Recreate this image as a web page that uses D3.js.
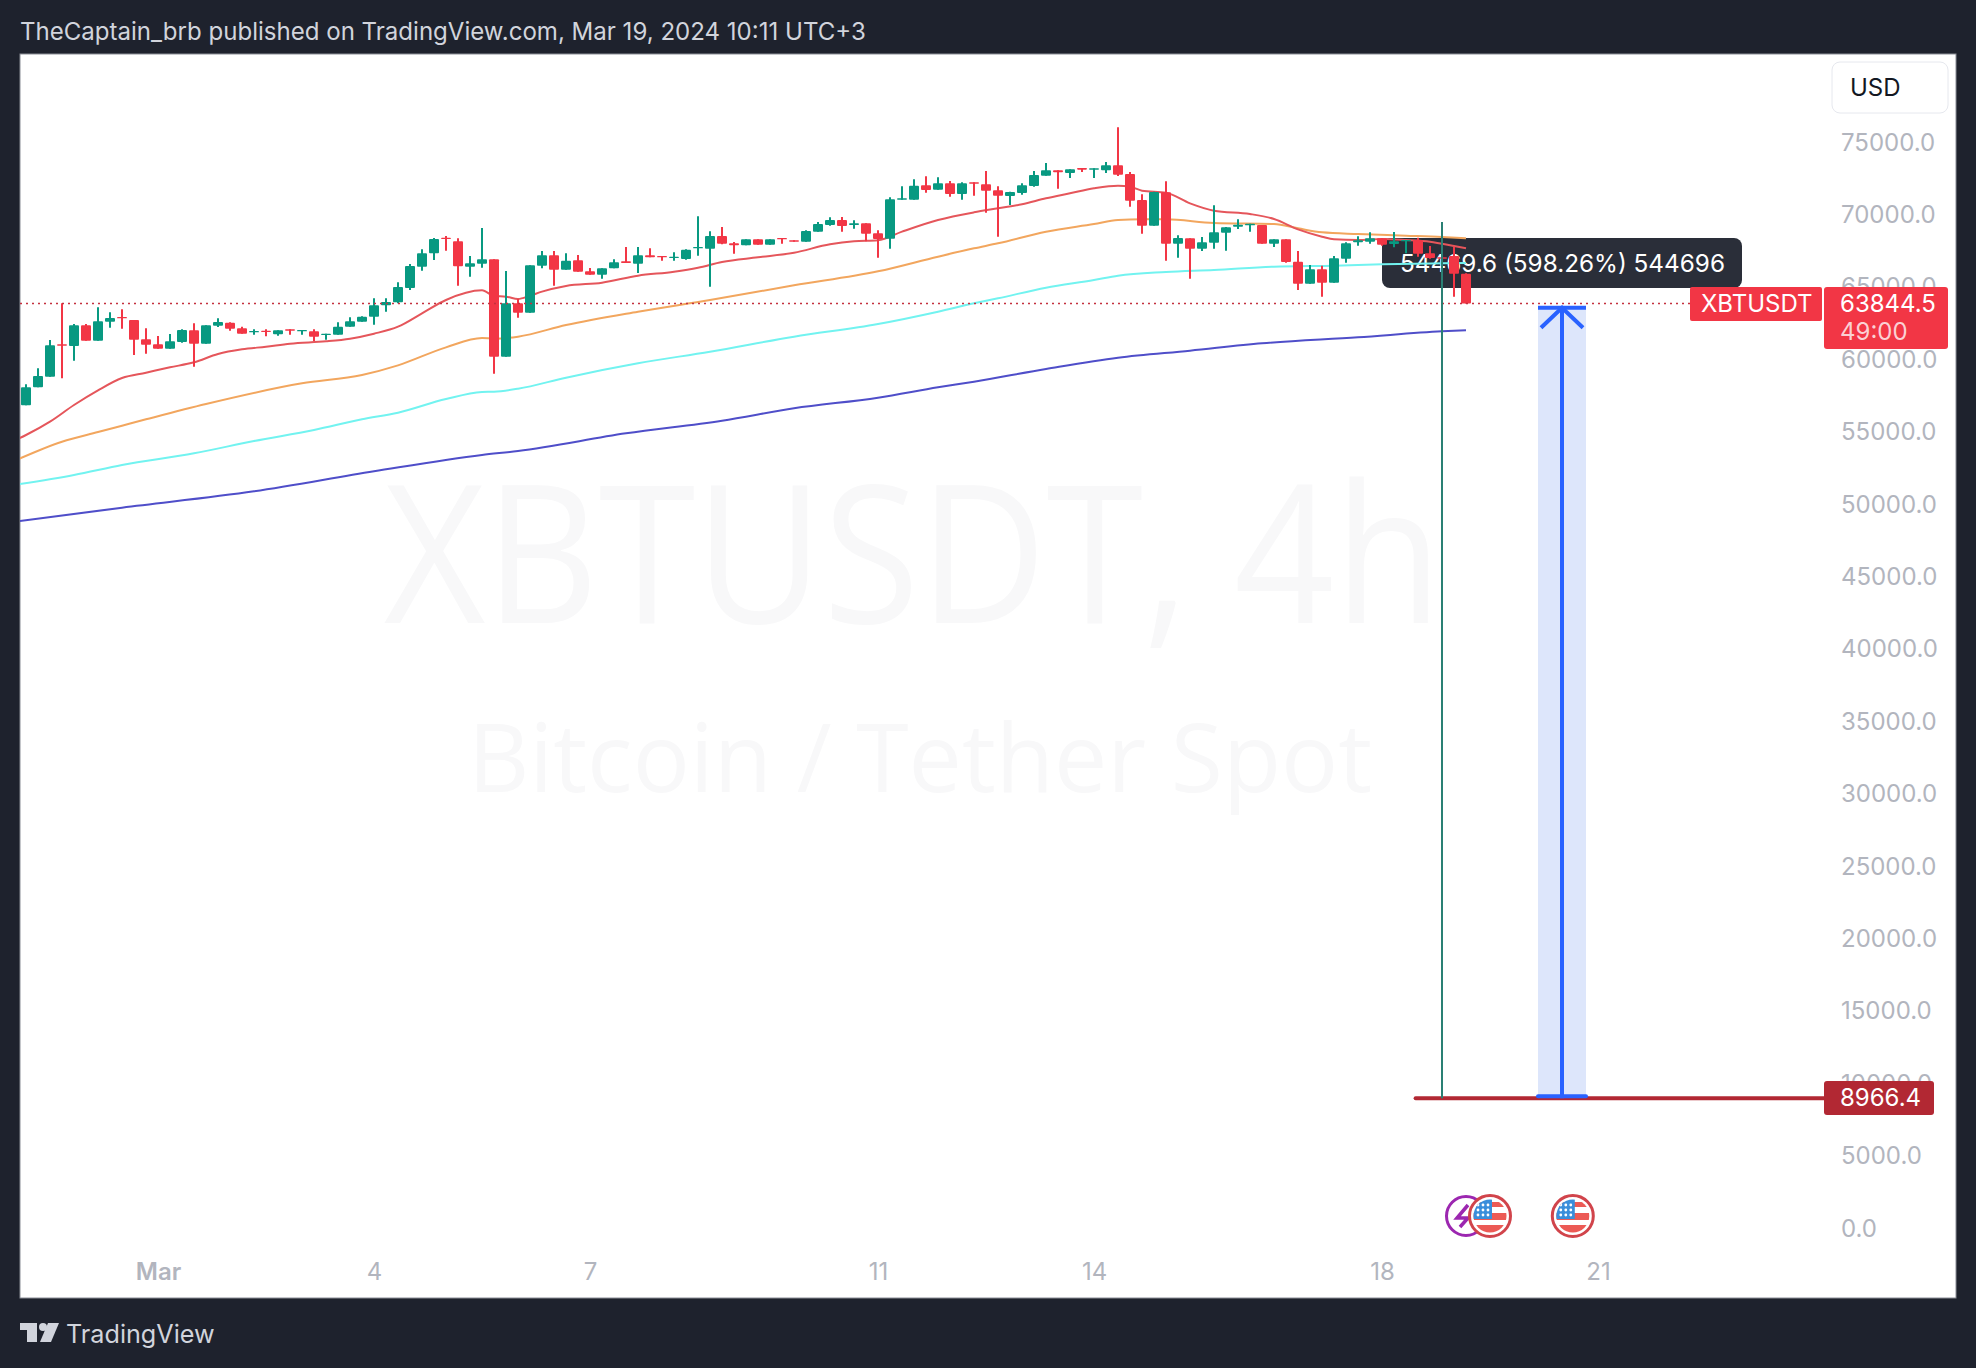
<!DOCTYPE html>
<html>
<head>
<meta charset="utf-8">
<script src="https://cdn.jsdelivr.net/npm/d3@7/dist/d3.min.js"></script>
<style>
  body { margin: 0; background: #1e222d; }
  text { font-family: Inter, sans-serif; }
</style>
</head>
<body>
<div id="chart"></div>
<script>
// candles, 4h, one per index
var opens = [56814,58057,58793,61026,60911,62339,61280,62592,62914,62707,61372,61026,60727,61187,61993,61072,62316,62523,62131,61855,61970,61717,62062,61924,61924,61671,61694,62246,62592,62937,63720,63927,64917,66390,67311,68393,68140,66390,66597,66896,60175,63858,63213,66459,67173,66183,66827,66068,65838,66275,66758,66597,67173,67127,66989,66919,67656,67633,68508,68001,67863,68278,67909,68370,68209,68117,68807,69268,69613,69268,69383,68692,68324,71017,71017,72007,71708,72145,71408,72214,72076,71662,71270,71477,71961,72674,73043,72859,73204,73089,73043,73388,72790,70994,69221,71523,67978,68347,67633,68047,68738,69152,69245,69268,67978,68278,66735,65216,66206,65285,66942,68070,68117,68347,67955,68140,68232,67311,67035,67127,65906];
var highs = [58264,59369,61326,63858,62431,62431,63582,63236,63443,62707,62131,61602,61740,62062,62477,62339,62822,62546,62246,62062,62062,61993,62062,62016,62062,61763,62546,62891,62960,64203,64203,65308,66574,67587,68370,68508,68347,67127,69060,66896,66090,64157,66482,67472,67472,67311,67196,66298,66275,66896,67748,67748,67656,67127,67380,67587,69866,68830,69129,68093,68278,68278,68278,68370,68209,68899,69475,69797,69820,69590,69383,68899,71178,71938,72421,72628,72559,72306,72214,72214,72997,71938,71570,72145,72997,73549,73043,73112,73204,73181,73618,76012,72928,71385,71570,72283,68554,68347,68439,70626,69129,69659,69360,69268,68278,68278,67472,66505,66459,67127,68070,68485,68761,68347,68784,68232,68393,67817,67541,67771,65929];
var lows = [56814,58057,58793,58678,59898,61280,61280,62177,62108,60290,60382,60727,60727,61141,59484,61072,62223,61970,61763,61694,61579,61625,61694,61694,61257,61349,61694,62246,62592,62385,63282,63858,64779,66114,66850,67495,65078,65699,66321,59000,60175,62868,63213,66275,65078,66183,66045,65838,65561,66275,66643,65953,67035,66804,66804,66873,67150,65009,67932,67288,67863,67909,67909,67978,68117,68117,68807,69222,68807,69015,68140,67012,67633,71017,71017,71500,71708,71224,71017,71293,70119,68462,70649,71362,71915,72674,71777,72513,72928,72513,72859,72651,70534,68669,69221,66804,67012,65561,67472,67633,67495,68991,68807,67978,67748,66666,64779,65216,64318,65285,66666,67840,67978,67840,67725,67311,67081,66942,66620,64318,63844.5];
var closes = [58057,58839,60957,60934,62339,61280,62615,62845,62822,61349,61003,60727,61234,62016,61072,62339,62569,62108,61763,61947,61878,61993,61970,62016,61556,61763,62246,62615,62937,63720,63950,64986,66436,67311,68301,68301,66413,66620,66896,60175,63858,63213,66482,67173,66183,66804,66045,65838,66275,66689,66643,67173,67035,67035,67081,67564,67748,68508,67978,67863,68278,67909,68278,68278,68117,68853,69337,69613,69199,69383,68669,68301,71040,71109,71984,71685,72145,71408,72145,72122,71639,71293,71547,72007,72720,73043,72905,73112,73089,73181,73388,72743,70948,69221,71547,67978,68370,67633,68070,68761,69106,69291,69360,67978,68278,66712,65216,66206,65285,66966,68001,68209,68347,67909,68140,68232,67288,66989,66942,65906,63844.5];

// moving averages, read at the bends
var redIndex = [-1,0,2,4,6,8,10,12,14,16,18,20,22,25,27,29,31,33,35,38,39,40,41,42,43,45,48,51,54,56,58,61,64,67,69,71,73,76,79,81,83,85,87,89,91,92,93,95,97,99,102,104,106,108,109,111,113,115,117,119,120];
var redValues = [54374,54765,55686,56837,57849,58701,59069,59438,59784,60358,60681,60865,61072,61233,61418,61763,62246,63167,64088,64755,64364,64318,64157,64387,64664,65054,65285,65768,66045,66321,66712,67035,67357,67932,68140,68209,68807,69613,70142,70419,70695,71109,71454,71800,71984,71915,71639,71500,70764,70257,70027,69682,68968,68462,68278,68232,68301,68232,68117,67817,67656];
var orangeIndex = [-1,3,6,8,10,15,23,28,31,35,38,39,41,45,51,57,64,71,76,79,81,85,89,91,93,95,99,104,106,108,111,115,118,120];
var orangeValues = [52969,54304,54972,55410,55847,56906,58333,58909,59576,60819,61464,61417,61556,62361,63282,64088,65101,66068,67081,67656,68001,68807,69337,69613,69659,69659,69406,69337,69037,68761,68646,68531,68439,68347];
var cyanIndex = [-1,4,8,14,19,24,28,31,35,38,39,41,45,51,57,64,71,76,79,81,85,89,91,95,99,104,109,113,118,120];
var cyanValues = [51312,52003,52693,53498,54349,55110,55847,56307,57251,57735,57757,57965,58724,59714,60520,61556,62431,63282,63858,64203,64940,65469,65768,66021,66160,66390,66459,66551,66620,66643];
var purpleIndex = [-1,8,19,29,38,41,50,58,64,71,76,79,85,91,97,103,111,118,120];
var purpleValues = [48780,49746,50875,52255,53384,53660,54880,55755,56607,57343,58057,58448,59323,60105,60589,61095,61510,61924,61993];

var priceTicks = [0,5000,10000,15000,20000,25000,30000,35000,40000,45000,50000,55000,60000,65000,70000,75000];
var dateTicks = [11,29,47,71,89,113,131];
var dateLabels = ["Mar","4","7","11","14","18","21"];

var lastPrice = 63844.5;
var targetPrice = 8966.4;
var measureTop = 63550;
var crossTop = 69475;
var flagEvents = [122,128.9];
var earningsEvent = 120;

var width = 1976, height = 1368;
var panel = { left: 20, top: 54, right: 1956, bottom: 1298 };

var x = d3.scaleLinear().domain([0, 120]).range([26, 1466]);
var y = d3.scaleLinear().domain([0, 75000]).range([1228, 142]);

var up = "#089981", down = "#f23645";

var svg = d3
  .select("#chart")
  .append("svg")
  .attr("width", width)
  .attr("height", height)
  .style("display", "block");

// header and footer
svg
  .append("text")
  .attr("x", 20)
  .attr("y", 40)
  .attr("fill", "#d1d4dc")
  .attr("font-size", 24.05)
  .text("TheCaptain_brb published on TradingView.com, Mar 19, 2024 10:11 UTC+3");

svg
  .append("rect")
  .attr("x", panel.left)
  .attr("y", panel.top)
  .attr("width", panel.right - panel.left)
  .attr("height", panel.bottom - panel.top)
  .attr("fill", "#fff")
  .attr("stroke", "#8a8d96")
  .attr("stroke-width", 1);

var logo = svg.append("g").attr("fill", "#d1d4dc");
logo.append("path").attr("d", "M20 1323H37V1342H27V1330H20Z");
logo.append("circle").attr("cx", 43).attr("cy", 1327).attr("r", 4);
logo.append("path").attr("d", "M48 1323H59L51 1342H40Z");

svg
  .append("text")
  .attr("x", 66)
  .attr("y", 1343)
  .attr("fill", "#d1d4dc")
  .attr("font-size", 25.2)
  .text("TradingView");

svg
  .append("clipPath")
  .attr("id", "plot")
  .append("rect")
  .attr("x", panel.left)
  .attr("y", panel.top)
  .attr("width", panel.right - panel.left)
  .attr("height", panel.bottom - panel.top);

var plot = svg.append("g").attr("clip-path", "url(#plot)");

// watermark
plot
  .append("text")
  .attr("x", 384)
  .attr("y", 623)
  .attr("textLength", 1058)
  .attr("lengthAdjust", "spacingAndGlyphs")
  .attr("fill", "#f8f8f9")
  .style("font-family", "'Open Sans'")
  .attr("font-weight", 500)
  .attr("font-size", 193)
  .text("XBTUSDT, 4h");

plot
  .append("text")
  .attr("x", 920)
  .attr("y", 792)
  .attr("text-anchor", "middle")
  .attr("fill", "#f8f8f9")
  .style("font-family", "'Open Sans'")
  .attr("font-weight", 500)
  .attr("font-size", 95)
  .text("Bitcoin / Tether Spot");

// price and date axes
var yAxis = svg
  .append("g")
  .attr("transform", "translate(1841,0.5)")
  .call(
    d3.axisRight(y)
      .tickValues(priceTicks)
      .tickFormat(d3.format(".1f"))
      .tickSize(0)
      .tickPadding(0)
  );
yAxis.select(".domain").remove();
yAxis
  .selectAll("text")
  .attr("fill", "#b2b5be")
  .attr("font-size", 24)
  .style("font-family", "Inter");

var xAxis = svg
  .append("g")
  .attr("transform", "translate(0,1272)")
  .call(
    d3.axisBottom(x)
      .tickValues(dateTicks)
      .tickFormat(function (d, i) {
        return dateLabels[i];
      })
      .tickSize(0)
      .tickPadding(0)
  );
xAxis.select(".domain").remove();
xAxis
  .selectAll("text")
  .attr("dy", "0.35em")
  .attr("fill", "#b2b5be")
  .attr("font-size", 24)
  .attr("font-weight", function (d, i) {
    return i == 0 ? 600 : 400;
  })
  .style("font-family", "Inter");

// measure shape, band first
plot
  .append("rect")
  .attr("x", x(126))
  .attr("y", y(measureTop))
  .attr("width", x(130) - x(126))
  .attr("height", y(targetPrice) - y(measureTop))
  .attr("fill", "#dde6fb");

// measure tooltip sits under the candles
plot
  .append("rect")
  .attr("x", 1382)
  .attr("y", 238)
  .attr("width", 360)
  .attr("height", 50)
  .attr("rx", 8)
  .attr("fill", "#2a2e39");

plot
  .append("text")
  .attr("x", 1400)
  .attr("y", 272)
  .attr("fill", "#fff")
  .attr("font-size", 24.3)
  .text("54469.6 (598.26%) 544696");

// moving averages
var line = d3
  .line()
  .x(function (d) {
    return x(d[0]);
  })
  .y(function (d) {
    return y(d[1]);
  })
  .curve(d3.curveMonotoneX);

function drawAverage(index, values, color) {
  plot
    .append("path")
    .attr("d", line(d3.zip(index, values)))
    .attr("fill", "none")
    .attr("stroke", color)
    .attr("stroke-width", 2);
}

drawAverage(purpleIndex, purpleValues, "#4f4ec9");
drawAverage(cyanIndex, cyanValues, "#72f3f0");
drawAverage(orangeIndex, orangeValues, "#f2a65e");
drawAverage(redIndex, redValues, "#e5565b");

// candles
var candles = plot
  .selectAll("g.candle")
  .data(d3.range(opens.length))
  .enter()
  .append("g")
  .attr("class", "candle");

candles
  .append("line")
  .attr("x1", function (d) {
    return x(d);
  })
  .attr("x2", function (d) {
    return x(d);
  })
  .attr("y1", function (d) {
    return y(highs[d]);
  })
  .attr("y2", function (d) {
    return y(lows[d]);
  })
  .attr("stroke", function (d) {
    return closes[d] >= opens[d] ? up : down;
  })
  .attr("stroke-width", 2);

candles
  .append("rect")
  .attr("x", function (d) {
    return x(d) - 5;
  })
  .attr("y", function (d) {
    return y(Math.max(opens[d], closes[d]));
  })
  .attr("width", 10)
  .attr("height", function (d) {
    return Math.max(1.3, Math.abs(y(opens[d]) - y(closes[d])));
  })
  .attr("rx", 1)
  .attr("fill", function (d) {
    return closes[d] >= opens[d] ? up : down;
  });

// last price line
plot
  .append("line")
  .attr("x1", panel.left)
  .attr("x2", 1690)
  .attr("y1", y(lastPrice))
  .attr("y2", y(lastPrice))
  .attr("stroke", "#c4303f")
  .attr("stroke-width", 1.5)
  .attr("stroke-dasharray", "2 4");

// target horizontal
plot
  .append("line")
  .attr("x1", x(115.8))
  .attr("x2", 1824)
  .attr("y1", y(targetPrice))
  .attr("y2", y(targetPrice))
  .attr("stroke", "#b22833")
  .attr("stroke-width", 4)
  .attr("stroke-linecap", "round");

// vertical trade line
plot
  .append("line")
  .attr("x1", x(118))
  .attr("x2", x(118))
  .attr("y1", y(crossTop))
  .attr("y2", y(targetPrice))
  .attr("stroke", "#2a8074")
  .attr("stroke-width", 2);

// measure arrow
var blue = "#2962ff";
var arrow = plot
  .append("g")
  .attr("stroke", blue)
  .attr("fill", "none")
  .attr("stroke-width", 4);
arrow
  .append("line")
  .attr("x1", x(126))
  .attr("x2", x(130))
  .attr("y1", y(measureTop))
  .attr("y2", y(measureTop));
arrow
  .append("line")
  .attr("x1", x(126))
  .attr("x2", x(130))
  .attr("y1", y(targetPrice) - 2)
  .attr("y2", y(targetPrice) - 2)
  .attr("stroke-linecap", "round");
arrow
  .append("line")
  .attr("x1", x(128))
  .attr("x2", x(128))
  .attr("y1", y(measureTop))
  .attr("y2", y(targetPrice));
arrow
  .append("path")
  .attr("d", "M" + (x(128) - 21) + " " + (y(measureTop) + 20) + "L" + x(128) + " " + y(measureTop) + "L" + (x(128) + 21) + " " + (y(measureTop) + 20));

// event icons
var eventY = 1216;
var earnings = svg
  .append("g")
  .attr("transform", "translate(" + x(earningsEvent) + "," + eventY + ")");
earnings
  .append("circle")
  .attr("r", 19.5)
  .attr("fill", "#fff")
  .attr("stroke", "#9c27b0")
  .attr("stroke-width", 3);
earnings
  .append("path")
  .attr("d", "M2 -11L-9 2H2L-6 11")
  .attr("fill", "none")
  .attr("stroke", "#9c27b0")
  .attr("stroke-width", 3.5);

var flagStripes = [
  [-14, -9],
  [-3, 4],
  [9, 18],
];
var flagRows = [-11, -6, -1];
var flagCols = [-12, -7, -2];

svg
  .append("clipPath")
  .attr("id", "flagclip")
  .append("circle")
  .attr("r", 16.5);

flagEvents.forEach(function (e) {
  var g = svg
    .append("g")
    .attr("transform", "translate(" + x(e) + "," + eventY + ")");
  g.append("circle")
    .attr("r", 20.5)
    .attr("fill", "#fff")
    .attr("stroke", "#d1444b")
    .attr("stroke-width", 3);
  var inner = g.append("g").attr("clip-path", "url(#flagclip)");
  flagStripes.forEach(function (s) {
    inner
      .append("rect")
      .attr("x", -17)
      .attr("y", s[0])
      .attr("width", 34)
      .attr("height", s[1] - s[0])
      .attr("fill", "#ec5a55");
  });
  inner
    .append("rect")
    .attr("x", -17)
    .attr("y", -17)
    .attr("width", 19)
    .attr("height", 20)
    .attr("fill", "#3a8edb");
  flagRows.forEach(function (r) {
    flagCols.forEach(function (c) {
      inner.append("circle").attr("cx", c).attr("cy", r).attr("r", 1.4).attr("fill", "#fff");
    });
  });
});

// USD box
svg
  .append("rect")
  .attr("x", 1832)
  .attr("y", 62)
  .attr("width", 116)
  .attr("height", 51)
  .attr("rx", 8)
  .attr("fill", "#fff")
  .attr("stroke", "#e6e8ee");
svg
  .append("text")
  .attr("x", 1850)
  .attr("y", 96)
  .attr("fill", "#131722")
  .attr("font-size", 24)
  .text("USD");

// right side labels
svg
  .append("rect")
  .attr("x", 1690)
  .attr("y", 287)
  .attr("width", 132)
  .attr("height", 34)
  .attr("rx", 2)
  .attr("fill", down);
svg
  .append("text")
  .attr("x", 1701)
  .attr("y", 312)
  .attr("fill", "#fff")
  .attr("font-size", 24)
  .text("XBTUSDT");
svg
  .append("rect")
  .attr("x", 1824)
  .attr("y", 287)
  .attr("width", 124)
  .attr("height", 62)
  .attr("rx", 3)
  .attr("fill", down);
svg
  .append("text")
  .attr("x", 1840)
  .attr("y", 312)
  .attr("fill", "#fff")
  .attr("font-size", 24)
  .text(lastPrice.toFixed(1));
svg
  .append("text")
  .attr("x", 1840)
  .attr("y", 340)
  .attr("fill", "#fbd0d4")
  .attr("font-size", 24)
  .text("49:00");
svg
  .append("rect")
  .attr("x", 1824)
  .attr("y", 1081)
  .attr("width", 110)
  .attr("height", 34)
  .attr("rx", 3)
  .attr("fill", "#b22833");
svg
  .append("text")
  .attr("x", 1840)
  .attr("y", 1106)
  .attr("fill", "#fff")
  .attr("font-size", 24)
  .text(targetPrice.toFixed(1));
</script>
</body>
</html>
